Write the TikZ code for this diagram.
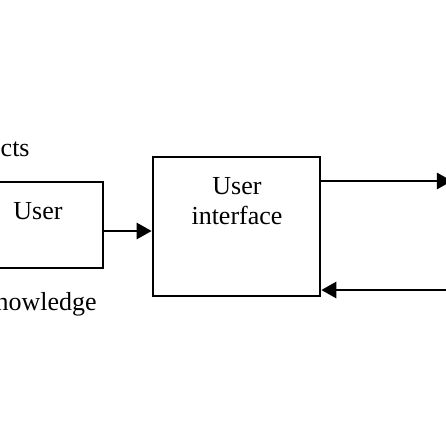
\documentclass[tikz,border=0pt]{standalone}
\usepackage{fontspec}
\setmainfont{Liberation Serif}
\usepackage{tikz}
\usetikzlibrary{positioning,arrows.meta,calc,fit}

\begin{document}
\begin{tikzpicture}[
    x=0.5pt, y=-0.5pt,
    font=\fontsize{13}{15}\selectfont,
    blk/.style={draw, line width=1.3pt, inner sep=0pt},
    txt/.style={inner sep=0pt, align=center},
    arr/.style={-{Triangle[length=7.5pt,width=8pt]}, line width=1.3pt}
]
\useasboundingbox (0,0) rectangle (446,446);
\clip (0,0) rectangle (446,446);
\fill[white] (0,0) rectangle (446,446);

% left: user block and its side texts
\node[blk, fit={(-27,182) (103,268)}] (user) {};
\node[txt] (usertxt) at (38,211) {User};
\node[txt, anchor=base east] (facts) at (30,156) {cts};
\node[txt, anchor=base east] (know) at (97,310) {nowledge};

% middle: user interface block
\node[blk, fit={(153,157) (320,296)}] (ui) {};
\node[txt] (uitxt) at (237,201) {User\\interface};

% free ends on the right
\coordinate (out) at (452,181);
\coordinate (in) at (470,290);
\coordinate (mid) at (130,231);

% arrows
\draw[arr] (mid -| user.east) -- (mid -| ui.west);
\draw[arr] (out -| ui.east) -- (out);
\draw[arr] (in) -- (in -| ui.east);

\end{tikzpicture}
\end{document}
